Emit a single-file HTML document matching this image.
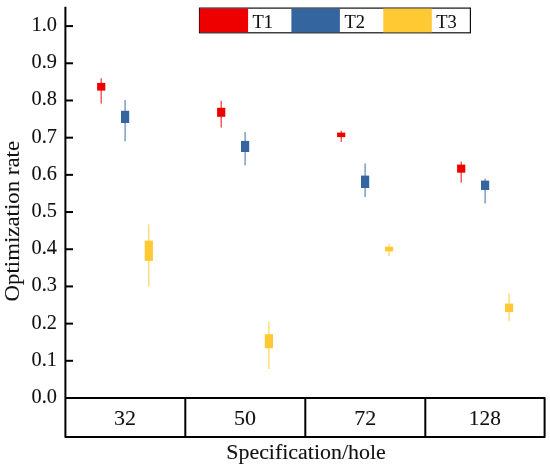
<!DOCTYPE html>
<html><head><meta charset="utf-8"><title>Chart</title>
<style>
html,body{margin:0;padding:0;background:#fff;}
body{width:550px;height:468px;overflow:hidden;}
svg{display:block;}
text{font-family:"Liberation Serif","DejaVu Serif",serif;fill:#111;stroke:#111;stroke-width:0.1px;}
</style></head><body>
<svg width="550" height="468" viewBox="0 0 550 468">
<rect width="550" height="468" fill="#fff"/>

<line x1="101.2" y1="78.2" x2="101.2" y2="103.4" stroke="#ee0000" stroke-width="1.2" stroke-opacity="0.8"/>
<rect x="97.1" y="82.9" width="8.2" height="7.7" fill="#ee0000"/>
<line x1="125.1" y1="100.0" x2="125.1" y2="141.2" stroke="#34659f" stroke-width="1.2" stroke-opacity="0.8"/>
<rect x="121.0" y="110.8" width="8.2" height="12.2" fill="#34659f"/>
<line x1="148.8" y1="224.6" x2="148.8" y2="286.5" stroke="#ffc933" stroke-width="1.2" stroke-opacity="0.8"/>
<rect x="144.7" y="240.6" width="8.2" height="20.3" fill="#ffc933"/>
<line x1="221.2" y1="100.7" x2="221.2" y2="127.4" stroke="#ee0000" stroke-width="1.2" stroke-opacity="0.8"/>
<rect x="217.1" y="107.8" width="8.2" height="9.0" fill="#ee0000"/>
<line x1="245.1" y1="131.9" x2="245.1" y2="165.5" stroke="#34659f" stroke-width="1.2" stroke-opacity="0.8"/>
<rect x="241.0" y="140.9" width="8.2" height="11.1" fill="#34659f"/>
<line x1="268.9" y1="321.4" x2="268.9" y2="369.0" stroke="#ffc933" stroke-width="1.2" stroke-opacity="0.8"/>
<rect x="264.8" y="334.2" width="8.2" height="14.1" fill="#ffc933"/>
<line x1="341.2" y1="130.7" x2="341.2" y2="142.0" stroke="#ee0000" stroke-width="1.2" stroke-opacity="0.8"/>
<rect x="337.1" y="132.6" width="8.2" height="4.5" fill="#ee0000"/>
<line x1="365.1" y1="163.4" x2="365.1" y2="197.0" stroke="#34659f" stroke-width="1.2" stroke-opacity="0.8"/>
<rect x="361.0" y="175.6" width="8.2" height="12.4" fill="#34659f"/>
<line x1="389.1" y1="243.7" x2="389.1" y2="255.9" stroke="#ffc933" stroke-width="1.2" stroke-opacity="0.8"/>
<rect x="385.0" y="246.7" width="8.2" height="4.7" fill="#ffc933"/>
<line x1="461.2" y1="161.4" x2="461.2" y2="182.7" stroke="#ee0000" stroke-width="1.2" stroke-opacity="0.8"/>
<rect x="457.1" y="164.6" width="8.2" height="8.1" fill="#ee0000"/>
<line x1="485.1" y1="178.5" x2="485.1" y2="203.5" stroke="#34659f" stroke-width="1.2" stroke-opacity="0.8"/>
<rect x="481.0" y="180.6" width="8.2" height="9.4" fill="#34659f"/>
<line x1="509.1" y1="293.3" x2="509.1" y2="321.3" stroke="#ffc933" stroke-width="1.2" stroke-opacity="0.8"/>
<rect x="505.0" y="303.6" width="8.2" height="8.5" fill="#ffc933"/>
<g stroke="#000" stroke-width="2" fill="none" stroke-linecap="square" stroke-linejoin="round">
<path d="M65.4 7.7 V437 H544.6 V398 H65.4"/>
<path d="M185.3 398 V437"/>
<path d="M305.3 398 V437"/>
<path d="M425.3 398 V437"/>
<path d="M66 360.81 H73" stroke-linecap="butt"/>
<path d="M66 323.62 H73" stroke-linecap="butt"/>
<path d="M66 286.43 H73" stroke-linecap="butt"/>
<path d="M66 249.24 H73" stroke-linecap="butt"/>
<path d="M66 212.05 H73" stroke-linecap="butt"/>
<path d="M66 174.86 H73" stroke-linecap="butt"/>
<path d="M66 137.67 H73" stroke-linecap="butt"/>
<path d="M66 100.48 H73" stroke-linecap="butt"/>
<path d="M66 63.29 H73" stroke-linecap="butt"/>
<path d="M66 26.10 H73" stroke-linecap="butt"/>
</g>
<text x="31.6" y="402.9" font-size="21" textLength="25.4" lengthAdjust="spacingAndGlyphs">0.0</text>
<text x="31.6" y="365.7" font-size="21" textLength="25.4" lengthAdjust="spacingAndGlyphs">0.1</text>
<text x="31.6" y="328.5" font-size="21" textLength="25.4" lengthAdjust="spacingAndGlyphs">0.2</text>
<text x="31.6" y="291.3" font-size="21" textLength="25.4" lengthAdjust="spacingAndGlyphs">0.3</text>
<text x="31.6" y="254.1" font-size="21" textLength="25.4" lengthAdjust="spacingAndGlyphs">0.4</text>
<text x="31.6" y="217.0" font-size="21" textLength="25.4" lengthAdjust="spacingAndGlyphs">0.5</text>
<text x="31.6" y="179.8" font-size="21" textLength="25.4" lengthAdjust="spacingAndGlyphs">0.6</text>
<text x="31.6" y="142.6" font-size="21" textLength="25.4" lengthAdjust="spacingAndGlyphs">0.7</text>
<text x="31.6" y="105.4" font-size="21" textLength="25.4" lengthAdjust="spacingAndGlyphs">0.8</text>
<text x="31.6" y="68.2" font-size="21" textLength="25.4" lengthAdjust="spacingAndGlyphs">0.9</text>
<text x="31.6" y="31.0" font-size="21" textLength="25.4" lengthAdjust="spacingAndGlyphs">1.0</text>
<text x="125.1" y="425" font-size="21" text-anchor="middle" textLength="22" lengthAdjust="spacingAndGlyphs">32</text>
<text x="245.1" y="425" font-size="21" text-anchor="middle" textLength="22" lengthAdjust="spacingAndGlyphs">50</text>
<text x="365.3" y="425" font-size="21" text-anchor="middle" textLength="22" lengthAdjust="spacingAndGlyphs">72</text>
<text x="484.8" y="425" font-size="21" text-anchor="middle" textLength="32" lengthAdjust="spacingAndGlyphs">128</text>
<text x="306" y="458.6" font-size="21" text-anchor="middle" textLength="159.5" lengthAdjust="spacingAndGlyphs">Specification/hole</text>
<text transform="translate(18.8 221.2) rotate(-90)" font-size="21" text-anchor="middle" textLength="160.5" lengthAdjust="spacingAndGlyphs">Optimization rate</text>
<rect x="199.5" y="8.1" width="270.9" height="24.7" fill="#fff" stroke="#111" stroke-width="1.2"/>
<rect x="199.6" y="8.6" width="48.5" height="23.7" fill="#ee0000"/>
<text x="252.6" y="27.7" font-size="19.5" textLength="20.5" lengthAdjust="spacingAndGlyphs">T1</text>
<rect x="291.4" y="8.6" width="48.5" height="23.7" fill="#34659f"/>
<text x="344.4" y="27.7" font-size="19.5" textLength="20.5" lengthAdjust="spacingAndGlyphs">T2</text>
<rect x="383.3" y="8.6" width="48.5" height="23.7" fill="#ffc933"/>
<text x="436.3" y="27.7" font-size="19.5" textLength="20.5" lengthAdjust="spacingAndGlyphs">T3</text>
</svg></body></html>
